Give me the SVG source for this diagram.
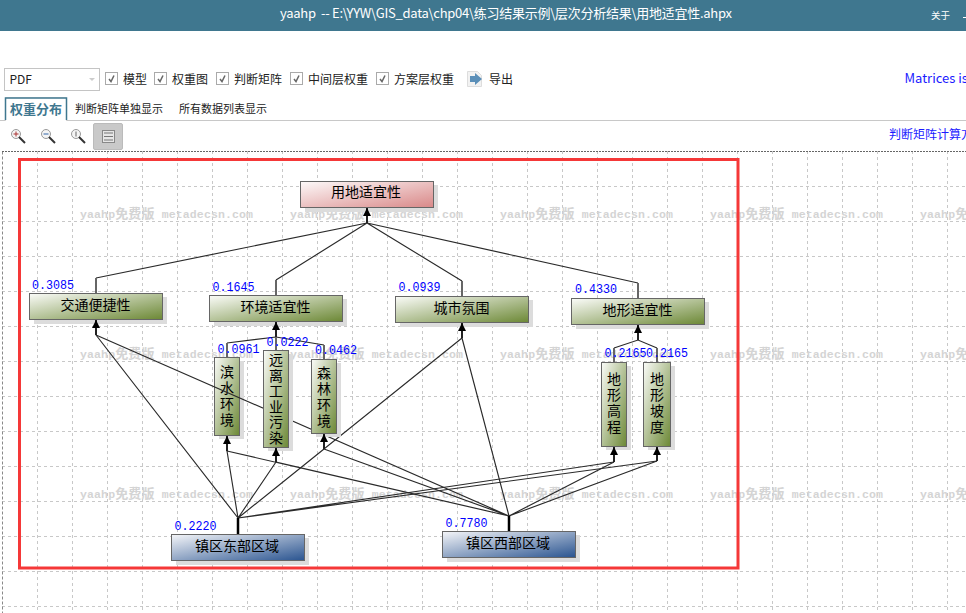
<svg xmlns="http://www.w3.org/2000/svg" width="966" height="613" viewBox="0 0 966 613">
<style>
text{font-family:"Noto Sans CJK SC","Noto Sans",sans-serif;fill:#000}
.ui{font-size:12px;fill:#222}
.sub{font-size:11px;fill:#222}
.head{fill:#fff;white-space:pre}
.link{fill:#1a1aff}
.grid{stroke:#c8c8c8;stroke-width:1;stroke-dasharray:3 3;fill:none}
.wm{font-family:"Liberation Mono","Noto Sans CJK SC",monospace;font-size:11.5px;font-weight:bold;fill:#d4d4d4}
.wm tspan{font-family:"Noto Sans CJK SC",sans-serif;font-size:13px}
.box{stroke:#666;stroke-width:1}
.shadow{fill:#dcdcdc}
.gn{fill:url(#green)}
.rd{fill:url(#red)}
.bl{fill:url(#blue)}
.name{font-size:14px;text-anchor:middle}
.val{font-family:"Liberation Mono",monospace;font-size:13px;fill:#0000ff}
.cb{fill:#fff;stroke:#aaa;stroke-width:1}
.ck{fill:none;stroke:#666;stroke-width:1.5}
.thin{fill:none;stroke:#2a2a2a;stroke-width:1.15}
.stem{fill:none;stroke:#222;stroke-width:2;marker-end:url(#arrow)}
.stub{fill:none;stroke:#666;stroke-width:2}
.foot{fill:none;stroke:#000;stroke-width:2.5}
.lens{fill:#f4f4f4;stroke:#999;stroke-width:1}
.hand{stroke:#333;stroke-width:2}
</style>
<defs>
<linearGradient id="green" x1="0" y1="0" x2="1" y2="1"><stop offset="0" stop-color="#fbfcf9"/><stop offset="1" stop-color="#6c8835"/></linearGradient>
<linearGradient id="red" x1="0" y1="0" x2="1" y2="1"><stop offset="0" stop-color="#fdfafa"/><stop offset="1" stop-color="#d98888"/></linearGradient>
<linearGradient id="blue" x1="0" y1="0" x2="1" y2="1"><stop offset="0" stop-color="#f5f6f9"/><stop offset="1" stop-color="#2a5490"/></linearGradient>
<marker id="arrow" markerUnits="userSpaceOnUse" markerWidth="10" markerHeight="10" refX="8" refY="4" orient="auto"><path d="M0 0L8 4L0 8Z" fill="#000"/></marker>
</defs>
<rect width="966" height="613" fill="#fff"/>

<g id="titlebar">
<rect width="966" height="31" fill="#3f778f"/>
<text class="head" x="280" y="18" font-size="13" textLength="452">yaahp  -- E:\YYW\GIS_data\chp04\练习结果示例\层次分析结果\用地适宜性.ahpx</text>
<text class="head" x="931" y="19" font-size="9.500">关于</text>
<rect x="963" y="17" width="3" height="1" fill="#fff"/>
</g>

<g id="toolbar">
<rect x="4.500" y="68.500" width="95" height="22" fill="#fff" stroke="#c4c4c4"/>
<text class="ui" x="9.500" y="84">PDF</text>
<path d="M89 78h6l-3 3z" fill="#ccc"/>
<rect class="cb" x="105.500" y="72.500" width="12" height="12"/><path class="ck" d="M109 79l2 2.500 3-6"/>
<text class="ui" x="123" y="84">模型</text>
<rect class="cb" x="154.500" y="72.500" width="12" height="12"/><path class="ck" d="M158 79l2 2.500 3-6"/>
<text class="ui" x="172" y="84">权重图</text>
<rect class="cb" x="216.500" y="72.500" width="12" height="12"/><path class="ck" d="M220 79l2 2.500 3-6"/>
<text class="ui" x="234" y="84">判断矩阵</text>
<rect class="cb" x="290.500" y="72.500" width="12" height="12"/><path class="ck" d="M294 79l2 2.500 3-6"/>
<text class="ui" x="308" y="84">中间层权重</text>
<rect class="cb" x="376.500" y="72.500" width="12" height="12"/><path class="ck" d="M380 79l2 2.500 3-6"/>
<text class="ui" x="394" y="84">方案层权重</text>
<path d="M467.500 71.500h10l4 4v11h-14z" fill="#f2f2f2" stroke="#ddd"/>
<path d="M470 76h5v-3l7 6-7 6v-3h-5z" fill="#5b8fb8"/>
<text class="ui" x="489" y="84">导出</text>
<text class="link" x="904.500" y="83" font-size="13">Matrices is</text>
</g>

<g id="tabs">
<path d="M0 120.500H5.500V98H66.500V120.500H966" fill="none" stroke="#c8c8c8"/>
<path d="M5.500 120V98H66.500V120" fill="#fff" stroke="#3f778f" stroke-width="1.500"/>
<text x="10" y="114" font-size="13" font-weight="bold" style="fill:#3f778f">权重分布</text>
<text class="sub" x="75" y="113">判断矩阵单独显示</text>
<text class="sub" x="179" y="113">所有数据列表显示</text>
<text class="link" x="889" y="139" font-size="12">判断矩阵计算方</text>
</g>

<g id="zoombar">
<circle class="lens" cx="16" cy="134" r="4.500"/><path class="hand" d="M19 137l6 6"/><path d="M13.500 134h5M16 131.500v5" stroke="#a33" fill="none"/>
<circle class="lens" cx="46" cy="134" r="4.500"/><path class="hand" d="M49 137l6 6"/><path d="M43.500 134h5" stroke="#36a" fill="none"/>
<circle class="lens" cx="76" cy="134" r="4.500"/><path class="hand" d="M79 137l6 6"/><path d="M76 131.500v5" stroke="#666" fill="none"/>
<rect x="93.500" y="123.500" width="29" height="26" rx="1.500" fill="#c9c9c9" stroke="#bbb"/>
<rect x="102.500" y="130.500" width="12" height="12" fill="#e6e6e6" stroke="#888"/>
<path d="M104 133h9M104 136.500h9M104 140h9" stroke="#777" fill="none"/>
</g>

<g id="grid">
<path class="grid" d="M2 186.500H966M2 221.500H966M2 256.500H966M2 291.500H966M2 326.500H966M2 361.500H966M2 396.500H966M2 431.500H966M2 466.500H966M2 501.500H966M2 536.500H966M2 571.500H966M2 606.500H966"/>
<path class="grid" d="M37.500 151V613M72.500 151V613M107.500 151V613M142.500 151V613M177.500 151V613M212.500 151V613M247.500 151V613M282.500 151V613M317.500 151V613M352.500 151V613M387.500 151V613M422.500 151V613M457.500 151V613M492.500 151V613M527.500 151V613M562.500 151V613M597.500 151V613M632.500 151V613M667.500 151V613M702.500 151V613M737.500 151V613M772.500 151V613M807.500 151V613M842.500 151V613M877.500 151V613M912.500 151V613M947.500 151V613"/>
<path d="M2.500 151.500V613" fill="none" stroke="#888" stroke-dasharray="3 2"/>
<path d="M2 151.500H966" fill="none" stroke="#666" stroke-dasharray="2 1"/>
</g>

<g id="watermarks">
<text class="wm" x="80" y="218" textLength="173">yaahp<tspan>免费版</tspan> metadecsn.com</text>
<text class="wm" x="290" y="218" textLength="173">yaahp<tspan>免费版</tspan> metadecsn.com</text>
<text class="wm" x="500" y="218" textLength="173">yaahp<tspan>免费版</tspan> metadecsn.com</text>
<text class="wm" x="710" y="218" textLength="173">yaahp<tspan>免费版</tspan> metadecsn.com</text>
<text class="wm" x="920" y="218" textLength="173">yaahp<tspan>免费版</tspan> metadecsn.com</text>
<text class="wm" x="80" y="358" textLength="173">yaahp<tspan>免费版</tspan> metadecsn.com</text>
<text class="wm" x="290" y="358" textLength="173">yaahp<tspan>免费版</tspan> metadecsn.com</text>
<text class="wm" x="500" y="358" textLength="173">yaahp<tspan>免费版</tspan> metadecsn.com</text>
<text class="wm" x="710" y="358" textLength="173">yaahp<tspan>免费版</tspan> metadecsn.com</text>
<text class="wm" x="920" y="358" textLength="173">yaahp<tspan>免费版</tspan> metadecsn.com</text>
<text class="wm" x="80" y="498" textLength="173">yaahp<tspan>免费版</tspan> metadecsn.com</text>
<text class="wm" x="290" y="498" textLength="173">yaahp<tspan>免费版</tspan> metadecsn.com</text>
<text class="wm" x="500" y="498" textLength="173">yaahp<tspan>免费版</tspan> metadecsn.com</text>
<text class="wm" x="710" y="498" textLength="173">yaahp<tspan>免费版</tspan> metadecsn.com</text>
<text class="wm" x="920" y="498" textLength="173">yaahp<tspan>免费版</tspan> metadecsn.com</text>
</g>

<g id="node-binshui">
<rect class="shadow" x="219" y="361" width="25" height="78"/>
<rect class="box gn" x="214.500" y="357.500" width="25" height="78"/>
<text class="name"><tspan x="227" y="376.500">滨</tspan><tspan x="227" y="392.500">水</tspan><tspan x="227" y="408.500">环</tspan><tspan x="227" y="424.500">境</tspan></text>
</g>

<g id="connectors">
<path class="thin" d="M96 278L367 223L276 280M367 223L462 281M367 223L638 283"/>
<path class="stub" d="M96 278V293M276 280V295M462 281V296M638 283V298"/>
<path class="thin" d="M227 343L276 337L324 345M614 348L638 340L657 348"/>
<path class="stub" d="M227 343V357M276 337V350M324 345V359M614 348V362M657 348V362"/>
<path class="thin" d="M238 518L96 335M238 518L227 451M238 518L276 462M238 518L324 449M238 518L462 338M238 518L614 462M238 518L657 461"/>
<path class="thin" d="M509 516L96 335M509 516L227 451M509 516L276 462M509 516L324 449M509 516L462 338M509 516L614 462M509 516L657 461"/>
<path class="foot" d="M238 518V534M509 516V531"/>
</g>

<g id="node-goal">
<rect class="shadow" x="305" y="185" width="133" height="27"/>
<rect class="box rd" x="300.500" y="181.500" width="133" height="26"/>
<text class="name" x="366" y="197">用地适宜性</text>
</g>
<g id="node-jiaotong">
<rect class="shadow" x="34" y="297" width="133" height="27"/>
<rect class="box gn" x="29.500" y="293.500" width="133" height="26"/>
<text class="name" x="95.500" y="310">交通便捷性</text>
</g>
<g id="node-huanjing">
<rect class="shadow" x="214" y="299" width="133" height="27"/>
<rect class="box gn" x="209.500" y="295.500" width="133" height="26"/>
<text class="name" x="275.500" y="312">环境适宜性</text>
</g>
<g id="node-chengshi">
<rect class="shadow" x="400" y="300" width="133" height="27"/>
<rect class="box gn" x="395.500" y="296.500" width="133" height="26"/>
<text class="name" x="461.500" y="313">城市氛围</text>
</g>
<g id="node-dixing">
<rect class="shadow" x="576" y="302" width="133" height="27"/>
<rect class="box gn" x="571.500" y="298.500" width="133" height="26"/>
<text class="name" x="637.500" y="315">地形适宜性</text>
</g>
<g id="node-yuanli">
<rect class="shadow" x="268" y="354" width="25" height="97"/>
<rect class="box gn" x="263.500" y="350.500" width="25" height="97"/>
<text class="name"><tspan x="276" y="365">远</tspan><tspan x="276" y="380.600">离</tspan><tspan x="276" y="396.200">工</tspan><tspan x="276" y="411.800">业</tspan><tspan x="276" y="427.400">污</tspan><tspan x="276" y="443">染</tspan></text>
</g>
<g id="node-senlin">
<rect class="shadow" x="316" y="363" width="25" height="74"/>
<rect class="box gn" x="311.500" y="359.500" width="25" height="74"/>
<text class="name"><tspan x="324" y="377.500">森</tspan><tspan x="324" y="393.500">林</tspan><tspan x="324" y="409.500">环</tspan><tspan x="324" y="425.500">境</tspan></text>
</g>
<g id="node-gaocheng">
<rect class="shadow" x="606" y="366" width="25" height="84"/>
<rect class="box gn" x="601.500" y="362.500" width="25" height="84"/>
<text class="name"><tspan x="614" y="384">地</tspan><tspan x="614" y="400">形</tspan><tspan x="614" y="416">高</tspan><tspan x="614" y="432">程</tspan></text>
</g>
<g id="node-podu">
<rect class="shadow" x="648" y="366" width="27" height="84"/>
<rect class="box gn" x="643.500" y="362.500" width="27" height="84"/>
<text class="name"><tspan x="657" y="384">地</tspan><tspan x="657" y="400">形</tspan><tspan x="657" y="416">坡</tspan><tspan x="657" y="432">度</tspan></text>
</g>
<g id="node-east">
<rect class="shadow" x="176" y="538" width="133" height="27"/>
<rect class="box bl" x="171.500" y="534.500" width="133" height="26"/>
<text class="name" x="237" y="551">镇区东部区域</text>
</g>
<g id="node-west">
<rect class="shadow" x="447" y="535" width="133" height="27"/>
<rect class="box bl" x="442.500" y="531.500" width="133" height="26"/>
<text class="name" x="508" y="548">镇区西部区域</text>
</g>

<g id="connector-arrows">
<path class="stem" d="M367 223V208"/>
<path class="stem" d="M96 335V320"/>
<path class="stem" d="M276 337V322"/>
<path class="stem" d="M462 338V323"/>
<path class="stem" d="M638 340V325"/>
<path class="stem" d="M227 451V436"/>
<path class="stem" d="M276 462V448"/>
<path class="stem" d="M324 449V434"/>
<path class="stem" d="M614 462V447"/>
<path class="stem" d="M657 461V447"/>
</g>

<g id="weights">
<text class="val" x="32" y="289" textLength="42" lengthAdjust="spacingAndGlyphs">0.3085</text>
<text class="val" x="212.500" y="291" textLength="42" lengthAdjust="spacingAndGlyphs">0.1645</text>
<text class="val" x="398.500" y="291" textLength="42" lengthAdjust="spacingAndGlyphs">0.0939</text>
<text class="val" x="575" y="293" textLength="42" lengthAdjust="spacingAndGlyphs">0.4330</text>
<text class="val" x="217.500" y="353" textLength="42" lengthAdjust="spacingAndGlyphs">0.0961</text>
<text class="val" x="266.500" y="346" textLength="42" lengthAdjust="spacingAndGlyphs">0.0222</text>
<text class="val" x="315" y="354" textLength="42" lengthAdjust="spacingAndGlyphs">0.0462</text>
<text class="val" x="604.500" y="357" textLength="42" lengthAdjust="spacingAndGlyphs">0.2165</text>
<text class="val" x="646" y="357" textLength="42" lengthAdjust="spacingAndGlyphs">0.2165</text>
<text class="val" x="174.500" y="530" textLength="42" lengthAdjust="spacingAndGlyphs">0.2220</text>
<text class="val" x="445.500" y="527" textLength="42" lengthAdjust="spacingAndGlyphs">0.7780</text>
</g>

<rect id="highlight" x="19.500" y="159.500" width="718.500" height="408.500" fill="none" stroke="#f53838" stroke-width="3"/>
</svg>
